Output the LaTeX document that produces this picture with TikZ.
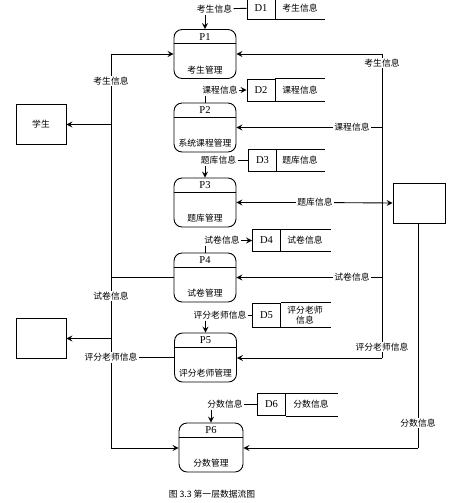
\documentclass[tikz,border=0pt]{standalone}
\usepackage{fontspec}
\setmainfont{Liberation Serif}
\newfontfamily\cjk{Noto Sans CJK SC}
\usetikzlibrary{positioning}
\tikzstyle{proc}=[draw,rounded corners=1.6mm,minimum width=1.24cm,
minimum height=0.98cm,inner sep=0pt]

\begin{document}
\begin{tikzpicture}[x=0.02cm,y=-0.02cm,>=stealth,line width=0.5pt]
    \tikzstyle{ent}=[draw,minimum width=1cm,minimum height=0.8cm,
    font=\cjk\fontsize{5}{6}\selectfont]
    \tikzstyle{dno}=[draw,minimum width=0.56cm,minimum height=0.44cm,
    inner sep=0pt,font=\fontsize{6}{7}\selectfont]
    \tikzstyle{pid}=[inner sep=0pt,font=\fontsize{6}{7}\selectfont]
    \tikzstyle{txt}=[inner sep=0pt,align=center,font=\cjk\fontsize{5}{6}\selectfont]
    \tikzstyle{lab}=[fill=white,inner sep=0.6pt,font=\cjk\fontsize{5}{6}\selectfont]
    \useasboundingbox (0,0) rectangle (474,503);

    \node[proc] at (205,54) (p1) {};
    \node[proc] at (205,127.5) (p2) {};
    \node[proc] at (205,202.5) (p3) {};
    \node[proc] at (205,277.5) (p4) {};
    \node[proc] at (205.5,357.5) (p5) {};
    \node[proc,minimum width=1.28cm] at (211,447.5) (p6) {};
    \foreach \p/\n/\t in {p1/P1/考生管理,p2/P2/系统课程管理,p3/P3/题库管理,
      p4/P4/试卷管理,p5/P5/评分老师管理,p6/P6/分数管理}{
      \draw ([yshift=-0.29cm]\p.north west) -- ([yshift=-0.29cm]\p.north east);
      \node[pid] at ([yshift=-0.15cm]\p.north) (\p id) {\n};
      \node[txt] at ([yshift=0.18cm]\p.south) (\p tx) {\t};
    }

    \node[dno] at (261,8) (d1) {D1};
    \node[dno] at (261,90) (d2) {D2};
    \node[dno] at (262.5,160.5) (d3) {D3};
    \node[dno] at (266.5,240.5) (d4) {D4};
    \node[dno,minimum height=0.48cm] at (266.5,315) (d5) {D5};
    \node[dno] at (271.5,404.5) (d6) {D6};
    \foreach \d/\l in {d1/50,d2/50,d3/48,d4/50,d5/50,d6/52}{
      \draw (\d.north east) -- ++(\l,0) (\d.south east) -- ++(\l,0);
    }
    \node[txt] at (300,8) (d1t) {考生信息};
    \node[txt] at (300,90) (d2t) {课程信息};
    \node[txt] at (300,160.5) (d3t) {题库信息};
    \node[txt] at (305,240.5) (d4t) {试卷信息};
    \node[txt] at (305,315) (d5t) {评分老师\\信息};
    \node[txt] at (311,404.5) (d6t) {分数信息};

    \node[ent] at (41,124.5) (stu) {学生};
    \node[ent] at (41,338.5) (tea) {};
    \node[ent,minimum width=1.04cm] at (419,203) (adm) {};

    \coordinate (lt) at (111,54);
    \coordinate (lb) at (111,448);
    \coordinate (rt) at (382,54);
    \coordinate (rb) at (382,358);
    \coordinate (sb) at (418,448);

    \draw (lt) -- (lb);
    \draw[->] (lt) -- (lt -| p1.west);
    \draw[->] (lb) -- (lb -| p6.west);
    \draw[->] (stu.east -| lt) -- (stu.east);
    \draw[->] (tea.east -| lt) -- (tea.east);
    \draw (p4.west) -- (p4.west -| lt);
    \draw (rt) -- (rb);
    \draw[->] (rt) -- (rt -| p1.east);
    \draw[->] (rb) -- (rb -| p5.east);
    \draw (adm.south -| sb) -- (sb);
    \draw[->] (sb) -- (sb -| p6.east);

    \node[lab] at (111,81) (g1) {考生信息};
    \node[lab] at (111,296) (g4) {试卷信息};
    \node[lab] at (111,357.5) (g5) {评分老师信息};
    \draw (p5.west) -- (g5);
    \node[lab] at (382,63) (h1) {考生信息};
    \node[lab] at (352,127.5) (h2) {课程信息};
    \draw[->] (h2) -- (p2.east);
    \draw (h2) -- (h2 -| rt);
    \node[lab] at (315,202.5) (h3) {题库信息};
    \draw[->] (h3) -- (p3.east);
    \draw[->] (h3) -- (adm.west);
    \node[lab] at (352,277.5) (h4) {试卷信息};
    \draw[->] (h4) -- (p4.east);
    \draw (h4) -- (h4 -| rt);
    \node[lab] at (382,347) (h5) {评分老师信息};
    \node[lab] at (418,423) (h6) {分数信息};

    \node[lab] at (214.5,9) (f1) {考生信息};
    \draw (f1) -- (d1);
    \draw[->] (f1.south -| p1.north) -- (p1.north);
    \node[lab] at (220,90) (f2) {课程信息};
    \draw[->] (f2) -- (d2);
    \draw (p2.north) -- (f2.south -| p2.north);
    \node[lab] at (218.5,160.5) (f3) {题库信息};
    \draw (f3) -- (d3);
    \draw[->] (f3.south -| p3.north) -- (p3.north);
    \node[lab] at (222,240.5) (f4) {试卷信息};
    \draw[->] (f4) -- (d4);
    \draw (p4.north) -- (f4.south -| p4.north);
    \node[lab] at (220,315) (f5) {评分老师信息};
    \draw (f5) -- (d5);
    \draw[->] (f5.south -| p5.north) -- (p5.north);
    \node[lab] at (225,404.5) (f6) {分数信息};
    \draw (f6) -- (d6);
    \draw[->] (f6.south -| p6.north) -- (p6.north);

    \node[txt] at (212,494) (cap) {图 3.3 第一层数据流图};
  \end{tikzpicture}
\end{document}
